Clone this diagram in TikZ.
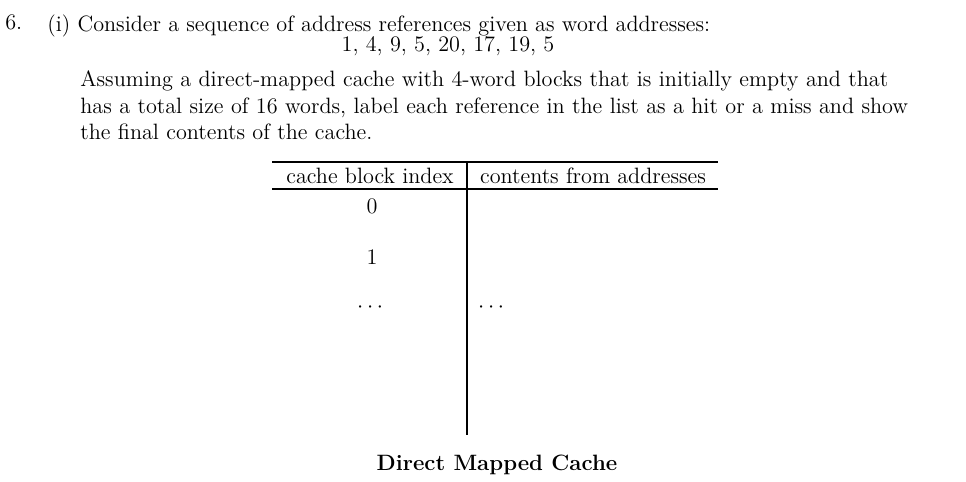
\documentclass[tikz,border=0pt]{standalone}
\usepackage{amsmath}
\usepackage{tikz}
\usetikzlibrary{positioning}

\begin{document}
\begin{tikzpicture}[
    x=0.019cm, y=-0.019cm,
    every node/.style={font=\fontsize{12}{14.5}\selectfont, inner sep=0pt},
    para/.style={align=left, text width=15.95cm, anchor=north west},
    rule/.style={line width=0.6pt}
]
\useasboundingbox (0,0) rectangle (966,481);

% Question text
\node[anchor=north west] (num) at (5,14) {6.};
\node[anchor=north west] (intro) at (47,14) {(i) Consider a sequence of address references given as word addresses:};
\node (seq) at (448,46) {1, 4, 9, 5, 20, 17, 19, 5};
\node[para] (task) at (80,70) {Assuming a direct-mapped cache with 4-word blocks that is initially empty and that has a total size of 16 words, label each reference in the list as a hit or a miss and show the final contents of the cache.};

% Table
\coordinate (tl) at (272,162);
\coordinate (tr) at (718,162);
\coordinate (hl) at (272,189);
\coordinate (hr) at (718,189);
\coordinate (vt) at (467,162);
\coordinate (vb) at (467,435);
\draw[rule] (tl) -- (tr);
\draw[rule] (hl) -- (hr);
\draw[rule] (vt) -- (vb);
\node (hidx) at (370,176) {cache block index};
\node (hcnt) at (593,176) {contents from addresses};
\node (r0) at (372,206) {0};
\node (r1) at (372,257) {1};
\node (rd) at (372,308) {$\cdots$};
\node (cd) at (493,308) {$\cdots$};

% Caption
\node (cap) at (497,465) {\textbf{Direct Mapped Cache}};
\end{tikzpicture}
\end{document}
